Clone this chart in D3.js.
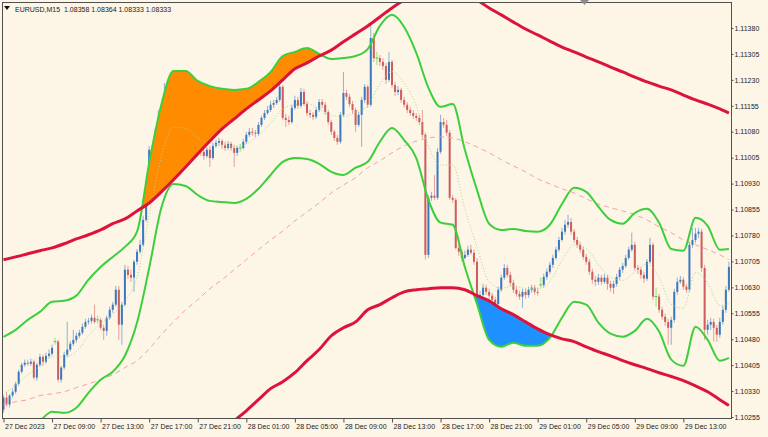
<!DOCTYPE html>
<html><head><meta charset="utf-8">
<script src="https://cdn.jsdelivr.net/npm/d3@7"></script>
<style>html,body{margin:0;padding:0;background:#fdf5e6;}svg{display:block}</style>
</head><body><svg id="c" width="768" height="437"></svg>
<script>
const timeLabels = ["27 Dec 2023","27 Dec 09:00","27 Dec 13:00","27 Dec 17:00","27 Dec 21:00","28 Dec 01:00","28 Dec 05:00","28 Dec 09:00","28 Dec 13:00","28 Dec 17:00","28 Dec 21:00","29 Dec 01:00","29 Dec 05:00","29 Dec 09:00","29 Dec 13:00"];
const timeTickBars = [0,16,32,48,64,80,96,112,128,144,160,176,192,208,224];
const priceTicks = [1.11380,1.11305,1.11230,1.11155,1.11080,1.11005,1.10930,1.10855,1.10780,1.10705,1.10630,1.10555,1.10480,1.10405,1.10330,1.10255];
const headerText = "EURUSD,M15  1.08358 1.08364 1.08333 1.08333";

const opens = [
1.10276,1.10311,1.10291,1.10317,1.10328,1.10351,1.10386,1.10406,1.10412,1.10409,
1.10415,1.10369,1.10406,1.10429,1.10415,1.10432,1.10438,1.10473,1.10473,1.10363,
1.10398,1.10435,1.10450,1.10467,1.10478,1.10490,1.10499,1.10516,1.10530,1.10533,
1.10542,1.10536,1.10536,1.10513,1.10504,1.10542,1.10565,1.10580,1.10623,1.10522,
1.10580,1.10681,1.10666,1.10658,1.10704,1.10733,1.10753,1.10825,1.10883,1.11028,
1.11004,1.11080,1.11056,1.11129,1.11172,1.11158,1.11137,1.11149,1.11120,1.11108,
1.11091,1.11080,1.11085,1.11062,1.11051,1.11033,1.11022,1.11010,1.11028,1.11004,
1.11039,1.11048,1.11053,1.11042,1.11033,1.11045,1.11033,1.11019,1.11033,1.11033,
1.11051,1.11071,1.11080,1.11077,1.11074,1.11100,1.11120,1.11134,1.11143,1.11158,
1.11163,1.11172,1.11210,1.11120,1.11114,1.11108,1.11149,1.11172,1.11155,1.11195,
1.11160,1.11134,1.11129,1.11123,1.11143,1.11166,1.11158,1.11137,1.11108,1.11080,
1.11062,1.11051,1.11129,1.11192,1.11181,1.11160,1.11143,1.11100,1.11129,1.11172,
1.11210,1.11158,1.11351,1.11293,1.11293,1.11282,1.11270,1.11230,1.11282,1.11215,
1.11195,1.11201,1.11172,1.11158,1.11143,1.11134,1.11126,1.11120,1.11108,1.11071,
1.10724,1.10889,1.10895,1.10889,1.11022,1.11108,1.11100,1.11077,1.10889,1.10883,
1.10744,1.10733,1.10715,1.10724,1.10739,1.10730,1.10704,1.10594,1.10608,1.10629,
1.10617,1.10606,1.10594,1.10582,1.10623,1.10658,1.10686,1.10666,1.10643,1.10623,
1.10611,1.10603,1.10617,1.10608,1.10623,1.10629,1.10617,1.10637,1.10637,1.10660,
1.10675,1.10695,1.10715,1.10739,1.10767,1.10791,1.10811,1.10819,1.10791,1.10767,
1.10753,1.10739,1.10718,1.10704,1.10675,1.10652,1.10646,1.10658,1.10646,1.10658,
1.10640,1.10629,1.10640,1.10660,1.10681,1.10692,1.10715,1.10739,1.10753,1.10686,
1.10681,1.10666,1.10655,1.10704,1.10753,1.10603,1.10603,1.10565,1.10545,1.10530,
1.10513,1.10536,1.10617,1.10646,1.10652,1.10632,1.10623,1.10753,1.10767,1.10785,
1.10791,1.10686,1.10507,1.10522,1.10530,1.10513,1.10493,1.10530,1.10565,1.10623];

const highs = [
1.10317,1.10328,1.10322,1.10337,1.10357,1.10392,1.10412,1.10421,1.10421,1.10424,
1.10421,1.10412,1.10438,1.10435,1.10441,1.10450,1.10464,1.10484,1.10478,1.10403,
1.10444,1.10530,1.10475,1.10507,1.10499,1.10507,1.10525,1.10539,1.10542,1.10551,
1.10580,1.10548,1.10542,1.10522,1.10548,1.10574,1.10588,1.10634,1.10634,1.10588,
1.10695,1.10692,1.10681,1.10710,1.10741,1.10767,1.10837,1.10895,1.11039,1.11042,
1.11091,1.11143,1.11149,1.11221,1.11195,1.11172,1.11160,1.11158,1.11129,1.11120,
1.11100,1.11097,1.11091,1.11071,1.11056,1.11045,1.11030,1.11036,1.11039,1.11048,
1.11056,1.11062,1.11059,1.11051,1.11053,1.11051,1.11042,1.11039,1.11045,1.11059,
1.11080,1.11091,1.11091,1.11085,1.11108,1.11126,1.11143,1.11155,1.11169,1.11172,
1.11181,1.11218,1.11215,1.11131,1.11126,1.11158,1.11184,1.11181,1.11207,1.11204,
1.11169,1.11143,1.11137,1.11152,1.11175,1.11175,1.11166,1.11143,1.11114,1.11085,
1.11071,1.11137,1.11253,1.11201,1.11189,1.11169,1.11149,1.11137,1.11181,1.11218,
1.11215,1.11389,1.11366,1.11311,1.11302,1.11293,1.11279,1.11311,1.11288,1.11224,
1.11212,1.11207,1.11181,1.11166,1.11152,1.11143,1.11134,1.11129,1.11143,1.11077,
1.10897,1.10906,1.10955,1.11033,1.11129,1.11120,1.11114,1.11085,1.10897,1.10889,
1.10753,1.10741,1.10736,1.10750,1.10753,1.10739,1.10715,1.10620,1.10640,1.10637,
1.10626,1.10614,1.10603,1.10632,1.10666,1.10698,1.10695,1.10675,1.10652,1.10632,
1.10620,1.10626,1.10626,1.10632,1.10637,1.10637,1.10629,1.10658,1.10669,1.10684,
1.10704,1.10724,1.10747,1.10776,1.10802,1.10825,1.10840,1.10831,1.10799,1.10776,
1.10762,1.10747,1.10727,1.10712,1.10684,1.10663,1.10669,1.10666,1.10669,1.10666,
1.10649,1.10649,1.10669,1.10689,1.10701,1.10724,1.10747,1.10788,1.10762,1.10695,
1.10689,1.10675,1.10712,1.10773,1.10759,1.10629,1.10611,1.10574,1.10554,1.10539,
1.10545,1.10626,1.10658,1.10663,1.10660,1.10640,1.10762,1.10802,1.10802,1.10802,
1.10799,1.10695,1.10536,1.10542,1.10539,1.10522,1.10542,1.10577,1.10634,1.10704];

const lows = [
1.10267,1.10285,1.10282,1.10311,1.10322,1.10345,1.10380,1.10400,1.10403,1.10403,
1.10363,1.10360,1.10400,1.10403,1.10409,1.10426,1.10432,1.10464,1.10357,1.10354,
1.10392,1.10429,1.10444,1.10461,1.10470,1.10484,1.10493,1.10510,1.10522,1.10525,
1.10525,1.10525,1.10507,1.10478,1.10490,1.10536,1.10556,1.10574,1.10478,1.10464,
1.10574,1.10655,1.10646,1.10617,1.10695,1.10727,1.10747,1.10819,1.10874,1.10993,
1.10999,1.11048,1.11051,1.11120,1.11143,1.11129,1.11126,1.11111,1.11097,1.11082,
1.11068,1.11071,1.11053,1.11039,1.11025,1.11010,1.10999,1.11004,1.10978,1.10999,
1.11033,1.11039,1.11030,1.11025,1.11028,1.11025,1.10978,1.11010,1.11022,1.11028,
1.11045,1.11065,1.11068,1.11065,1.11068,1.11094,1.11114,1.11129,1.11137,1.11149,
1.11158,1.11166,1.11114,1.11094,1.11100,1.11103,1.11143,1.11146,1.11149,1.11155,
1.11126,1.11120,1.11114,1.11117,1.11137,1.11149,1.11129,1.11100,1.11071,1.11053,
1.11042,1.11045,1.11123,1.11172,1.11152,1.11131,1.11080,1.11094,1.11036,1.11163,
1.11149,1.11152,1.11282,1.11273,1.11270,1.11259,1.11218,1.11224,1.11207,1.11184,
1.11186,1.11163,1.11149,1.11134,1.11126,1.11117,1.11111,1.11100,1.11062,1.10710,
1.10715,1.10880,1.10883,1.10883,1.11016,1.11091,1.11068,1.10883,1.10874,1.10739,
1.10721,1.10704,1.10710,1.10718,1.10724,1.10695,1.10585,1.10585,1.10603,1.10608,
1.10597,1.10585,1.10574,1.10577,1.10617,1.10652,1.10658,1.10634,1.10614,1.10603,
1.10594,1.10571,1.10597,1.10600,1.10614,1.10608,1.10606,1.10629,1.10629,1.10652,
1.10669,1.10686,1.10710,1.10733,1.10762,1.10782,1.10802,1.10782,1.10759,1.10744,
1.10730,1.10710,1.10695,1.10666,1.10640,1.10634,1.10637,1.10637,1.10640,1.10623,
1.10617,1.10611,1.10632,1.10652,1.10672,1.10686,1.10710,1.10733,1.10678,1.10669,
1.10655,1.10643,1.10649,1.10698,1.10594,1.10574,1.10556,1.10536,1.10519,1.10464,
1.10464,1.10528,1.10608,1.10640,1.10623,1.10614,1.10617,1.10744,1.10759,1.10773,
1.10675,1.10478,1.10493,1.10507,1.10473,1.10473,1.10484,1.10522,1.10556,1.10617];

const closes = [
1.10311,1.10291,1.10317,1.10328,1.10351,1.10386,1.10406,1.10412,1.10409,1.10415,
1.10369,1.10406,1.10429,1.10415,1.10432,1.10438,1.10455,1.10473,1.10363,1.10398,
1.10435,1.10450,1.10467,1.10478,1.10490,1.10499,1.10516,1.10530,1.10533,1.10542,
1.10530,1.10536,1.10513,1.10504,1.10542,1.10565,1.10580,1.10623,1.10522,1.10580,
1.10681,1.10666,1.10658,1.10704,1.10733,1.10753,1.10825,1.10883,1.11028,1.11004,
1.11080,1.11056,1.11129,1.11172,1.11158,1.11137,1.11149,1.11120,1.11108,1.11091,
1.11080,1.11085,1.11062,1.11051,1.11033,1.11022,1.11010,1.11028,1.11004,1.11039,
1.11048,1.11053,1.11042,1.11033,1.11045,1.11033,1.11019,1.11033,1.11033,1.11051,
1.11071,1.11080,1.11077,1.11074,1.11100,1.11120,1.11134,1.11143,1.11158,1.11163,
1.11172,1.11210,1.11120,1.11114,1.11108,1.11149,1.11172,1.11155,1.11195,1.11160,
1.11134,1.11129,1.11123,1.11143,1.11166,1.11158,1.11137,1.11108,1.11080,1.11062,
1.11051,1.11129,1.11192,1.11181,1.11160,1.11143,1.11100,1.11129,1.11172,1.11210,
1.11158,1.11351,1.11293,1.11293,1.11282,1.11270,1.11230,1.11282,1.11215,1.11195,
1.11201,1.11172,1.11158,1.11143,1.11134,1.11126,1.11120,1.11108,1.11071,1.10724,
1.10889,1.10895,1.10889,1.11022,1.11108,1.11100,1.11077,1.10889,1.10883,1.10744,
1.10733,1.10715,1.10724,1.10739,1.10730,1.10704,1.10594,1.10608,1.10629,1.10617,
1.10606,1.10594,1.10582,1.10623,1.10658,1.10686,1.10666,1.10643,1.10623,1.10611,
1.10603,1.10617,1.10608,1.10623,1.10629,1.10617,1.10614,1.10637,1.10660,1.10675,
1.10695,1.10715,1.10739,1.10767,1.10791,1.10811,1.10819,1.10791,1.10767,1.10753,
1.10739,1.10718,1.10704,1.10675,1.10652,1.10646,1.10658,1.10646,1.10658,1.10640,
1.10629,1.10640,1.10660,1.10681,1.10692,1.10715,1.10739,1.10753,1.10686,1.10681,
1.10666,1.10655,1.10704,1.10753,1.10603,1.10603,1.10565,1.10545,1.10530,1.10513,
1.10536,1.10617,1.10646,1.10652,1.10632,1.10623,1.10753,1.10767,1.10785,1.10791,
1.10686,1.10507,1.10522,1.10530,1.10513,1.10493,1.10530,1.10565,1.10623,1.10689];

// indicator samples (every 4th bar)
const bandBars = [0,4,8,12,16,20,24,28,32,36,40,44,48,52,56,60,64,68,72,76,80,84,88,92,96,100,104,108,112,116,120,124,128,132,136,140,144,148,152,156,160,164,168,172,176,180,184,188,192,196,200,204,208,212,216,220,224,228,232,236,239];

const upperBB = [
1.10487,1.10507,1.10536,1.10559,1.10588,1.10591,1.10606,1.10652,1.10689,1.10718,
1.10747,1.10791,1.10990,1.11158,1.11256,1.11256,1.11227,1.11212,1.11204,1.11201,
1.11204,1.11224,1.11253,1.11299,1.11311,1.11322,1.11305,1.11290,1.11293,1.11299,
1.11319,1.11386,1.11418,1.11383,1.11308,1.11207,1.11152,1.11160,1.11028,1.10912,
1.10814,1.10796,1.10799,1.10793,1.10791,1.10811,1.10871,1.10918,1.10906,1.10863,
1.10825,1.10814,1.10845,1.10857,1.10817,1.10741,1.10736,1.10831,1.10808,1.10739,
1.10741];
const lowerBB = [
1.10155,1.10189,1.10218,1.10244,1.10270,1.10267,1.10282,1.10325,1.10363,1.10386,
1.10432,1.10528,1.10686,1.10860,1.10929,1.10923,1.10897,1.10880,1.10877,1.10874,
1.10886,1.10915,1.10955,1.10993,1.11004,1.11001,1.10987,1.10964,1.10955,1.10976,
1.10993,1.11051,1.11091,1.11056,1.11004,1.10883,1.10817,1.10811,1.10689,1.10582,
1.10478,1.10458,1.10470,1.10461,1.10461,1.10484,1.10542,1.10588,1.10580,1.10528,
1.10496,1.10487,1.10504,1.10539,1.10502,1.10421,1.10403,1.10516,1.10478,1.10418,
1.10426];
const midBB = [
1.10321,1.10348,1.10377,1.10402,1.10429,1.10429,1.10444,1.10489,1.10526,1.10552,
1.10590,1.10659,1.10838,1.11009,1.11093,1.11090,1.11062,1.11046,1.11041,1.11038,
1.11045,1.11069,1.11104,1.11146,1.11158,1.11162,1.11146,1.11127,1.11124,1.11137,
1.11156,1.11218,1.11254,1.11220,1.11156,1.11038,1.10984,1.10984,1.10858,1.10747,
1.10646,1.10627,1.10634,1.10627,1.10626,1.10647,1.10707,1.10753,1.10743,1.10695,
1.10660,1.10650,1.10675,1.10698,1.10659,1.10581,1.10569,1.10673,1.10643,1.10578,
1.10584];
const upperEnv = [
1.10710,1.10718,1.10727,1.10736,1.10744,1.10756,1.10770,1.10782,1.10796,1.10814,
1.10828,1.10851,1.10874,1.10906,1.10941,1.10978,1.11016,1.11053,1.11088,1.11117,
1.11146,1.11172,1.11198,1.11230,1.11262,1.11279,1.11299,1.11316,1.11340,1.11363,
1.11386,1.11412,1.11438,1.11461,1.11484,1.11499,1.11501,1.11496,1.11478,1.11461,
1.11438,1.11418,1.11397,1.11377,1.11360,1.11342,1.11325,1.11311,1.11296,1.11282,
1.11267,1.11253,1.11238,1.11224,1.11212,1.11201,1.11186,1.11172,1.11160,1.11146,
1.11134];
const lowerEnv = [
1.09871,1.09880,1.09883,1.09898,1.09900,1.09900,1.09909,1.09921,1.09929,1.09941,
1.09967,1.09984,1.10030,1.10080,1.10120,1.10152,1.10172,1.10198,1.10215,1.10244,
1.10273,1.10305,1.10337,1.10357,1.10383,1.10418,1.10450,1.10490,1.10513,1.10530,
1.10565,1.10580,1.10600,1.10617,1.10623,1.10626,1.10629,1.10629,1.10623,1.10606,
1.10591,1.10568,1.10551,1.10530,1.10510,1.10493,1.10481,1.10473,1.10458,1.10444,
1.10432,1.10418,1.10406,1.10395,1.10383,1.10372,1.10360,1.10345,1.10328,1.10305,
1.10288];
const midEnv = [
1.10291,1.10299,1.10305,1.10317,1.10322,1.10328,1.10340,1.10351,1.10363,1.10377,
1.10398,1.10418,1.10452,1.10493,1.10530,1.10565,1.10594,1.10626,1.10652,1.10681,
1.10710,1.10739,1.10767,1.10793,1.10822,1.10848,1.10874,1.10903,1.10926,1.10947,
1.10976,1.10996,1.11019,1.11039,1.11053,1.11062,1.11065,1.11062,1.11051,1.11036,
1.11019,1.10999,1.10981,1.10964,1.10944,1.10929,1.10915,1.10903,1.10886,1.10871,
1.10860,1.10851,1.10840,1.10825,1.10805,1.10788,1.10767,1.10753,1.10739,1.10724,
1.10710];

const FONT = "'Liberation Sans', Arial, sans-serif";
const plot = {l:3, t:3, r:731, b:418};
const svg = d3.select('#c');
svg.append('rect').attr('width',768).attr('height',437).attr('fill','#fdf5e6');

const x = d3.scaleLinear().domain([0, closes.length-1]).range([3.5, 728.9]);
const y = d3.scaleLinear().domain([1.10255, 1.11380]).range([417, 28]);

const defs = svg.append('defs');
defs.append('clipPath').attr('id','plotClip').append('rect')
  .attr('x',plot.l).attr('y',plot.t).attr('width',plot.r-plot.l).attr('height',plot.b-plot.t);

const bands = bandBars.map((b,i)=>({b, ub:upperBB[i], lb:lowerBB[i], mb:midBB[i], ue:upperEnv[i], le:lowerEnv[i], me:midEnv[i]}));
const curve = d3.curveMonotoneX;

defs.append('clipPath').attr('id','aboveUE').append('path')
  .attr('d', d3.area().x(d=>x(d.b)).y0(-200).y1(d=>y(d.ue)).curve(curve)(bands));
defs.append('clipPath').attr('id','belowLE').append('path')
  .attr('d', d3.area().x(d=>x(d.b)).y0(d=>y(d.le)).y1(800).curve(curve)(bands));

const g = svg.append('g').attr('clip-path','url(#plotClip)');

// candles
const candles = closes.map((c,i)=>({i, o:opens[i], h:highs[i], l:lows[i], c}));
const BULL = '#3a78c0', BEAR = '#cd5c5c', DOJI = '#44d62c';
const col = d => d.c > d.o ? BULL : (d.c < d.o ? BEAR : DOJI);
const cg = g.append('g');
cg.selectAll('line.wick').data(candles).join('line').attr('class','wick')
  .attr('x1',d=>x(d.i)).attr('x2',d=>x(d.i))
  .attr('y1',d=>y(d.h)).attr('y2',d=>y(d.l))
  .attr('stroke',col).attr('stroke-width',1).attr('stroke-opacity',0.55);
cg.selectAll('rect.body').data(candles.filter(d=>d.o!==d.c)).join('rect').attr('class','body')
  .attr('x',d=>x(d.i)-1).attr('width',2)
  .attr('y',d=>y(Math.max(d.o,d.c)))
  .attr('height',d=>Math.max(1, Math.abs(y(d.o)-y(d.c))))
  .attr('fill',col);
cg.selectAll('line.doji').data(candles.filter(d=>d.o===d.c)).join('line').attr('class','doji')
  .attr('x1',d=>x(d.i)-1.5).attr('x2',d=>x(d.i)+1.5)
  .attr('y1',d=>y(d.c)).attr('y2',d=>y(d.c))
  .attr('stroke',DOJI).attr('stroke-width',1);

// fills
g.append('g').attr('clip-path','url(#aboveUE)').append('path')
  .attr('d', d3.area().x(d=>x(d.b)).y0(d=>y(d.ue)).y1(d=>y(d.ub)).curve(curve)(bands))
  .attr('fill','#ff8c00');
g.append('g').attr('clip-path','url(#belowLE)').append('path')
  .attr('d', d3.area().x(d=>x(d.b)).y0(d=>y(d.le)).y1(d=>y(d.lb)).curve(curve)(bands))
  .attr('fill','#1e90ff');

const line = key => d3.line().x(d=>x(d.b)).y(d=>y(d[key])).curve(curve)(bands);
g.append('path').attr('d',line('me')).attr('fill','none').attr('stroke','#f2a2a8').attr('stroke-width',1).attr('stroke-dasharray','5,4');
g.append('path').attr('d',line('mb')).attr('fill','none').attr('stroke','#9fdc95').attr('stroke-width',1).attr('stroke-dasharray','1,2');
['ub','lb'].forEach(k=>g.append('path').attr('d',line(k)).attr('fill','none').attr('stroke','#3ccf3c').attr('stroke-width',2));
['ue','le'].forEach(k=>g.append('path').attr('d',line(k)).attr('fill','none').attr('stroke','#dc143c').attr('stroke-width',3));

// frame
svg.append('rect').attr('x',2.5).attr('y',2.5).attr('width',729).attr('height',416)
  .attr('fill','none').attr('stroke','#505050').attr('stroke-width',1);

// axes
const ay = svg.append('g').attr('transform','translate(731.5,0)')
  .call(d3.axisRight(y).tickValues(priceTicks).tickFormat(d3.format('.5f')).tickSize(2).tickPadding(1));
ay.select('.domain').remove();
ay.selectAll('line').attr('stroke','#505050');
ay.selectAll('text').attr('font-family',FONT).attr('font-size',7).attr('fill','#222');

const ax = svg.append('g').attr('transform','translate(0,418.5)')
  .call(d3.axisBottom(x).tickValues(timeTickBars).tickFormat((d,i)=>timeLabels[i]).tickSize(4).tickPadding(2));
ax.select('.domain').remove();
ax.selectAll('line').attr('stroke','#505050');
ax.selectAll('text').attr('font-family',FONT).attr('font-size',7).attr('fill','#222')
  .attr('text-anchor','start').attr('dx',1);

// header
svg.append('path').attr('d','M4,6 L10,6 L7,10 Z').attr('fill','#111');
svg.append('text').attr('x',15).attr('y',12).attr('font-family',FONT).attr('font-size',7)
  .attr('fill','#222').attr('xml:space','preserve').style('white-space','pre').text(headerText);
// chart shift marker
svg.append('path').attr('d','M580,0 L589,0 L584.5,5 Z').attr('fill','#8c8c8c');
</script>
</body></html>
